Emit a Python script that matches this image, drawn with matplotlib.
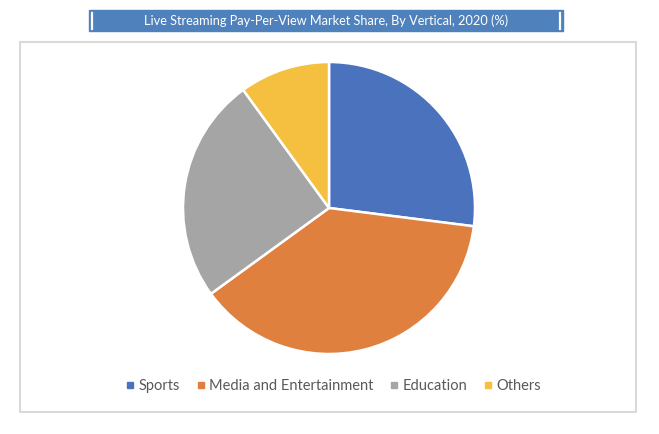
import matplotlib.pyplot as plt
from matplotlib.patches import Rectangle
from matplotlib.lines import Line2D

labels = ["Sports", "Media and Entertainment", "Education", "Others"]
shares = [27, 38, 25, 10]
colors = ["#4A72BD", "#E0803F", "#A5A5A5", "#F5C040"]
title = "Live Streaming Pay-Per-View Market Share, By Vertical, 2020 (%)"

W, H = 659, 434
fig = plt.figure(figsize=(W / 100, H / 100), dpi=100)

def fx(px):
    return px / W

def fy(py):
    return 1 - py / H

# outer frame
fig.patches.append(Rectangle((fx(20), fy(412)), fx(616), 370 / H, transform=fig.transFigure,
                             fill=False, edgecolor="#D9D9D9", lw=1.5))

# title box
fig.patches.append(Rectangle((fx(89), fy(31)), fx(474), 21 / H, transform=fig.transFigure,
                             facecolor="#4F81BD", edgecolor="#4F81BD", lw=1))
for xp in (92, 560):
    fig.lines.append(Line2D([fx(xp), fx(xp)], [fy(12.5), fy(28.5)], transform=fig.transFigure,
                            color="white", lw=1.6))
fig.text(fx(326), fy(20.5), title, color="white", fontsize=9.2, family="Lato",
         ha="center", va="center")

# pie
r = 146
cx, cy = 329, 208
ax = fig.add_axes([fx(cx - r), fy(cy + r), 2 * r / W, 2 * r / H])
ax.pie(shares, colors=colors, startangle=90, counterclock=False,
       wedgeprops=dict(edgecolor="white", linewidth=1.8))
ax.set_xlim(-1, 1)
ax.set_ylim(-1, 1)
ax.set_aspect("auto")
ax.axis("off")

handles = [Line2D([], [], marker="s", linestyle="none", markersize=5,
                  markerfacecolor=c, markeredgecolor=c) for c in colors]
fig.legend(handles, labels, loc="center", bbox_to_anchor=(fx(332), fy(386)), ncol=4,
           frameon=False, prop=dict(family="Lato", size=10.5), labelcolor="#595959",
           handletextpad=0.05, columnspacing=0.95, handlelength=1.0)

fig.savefig("out.png", dpi=100)
